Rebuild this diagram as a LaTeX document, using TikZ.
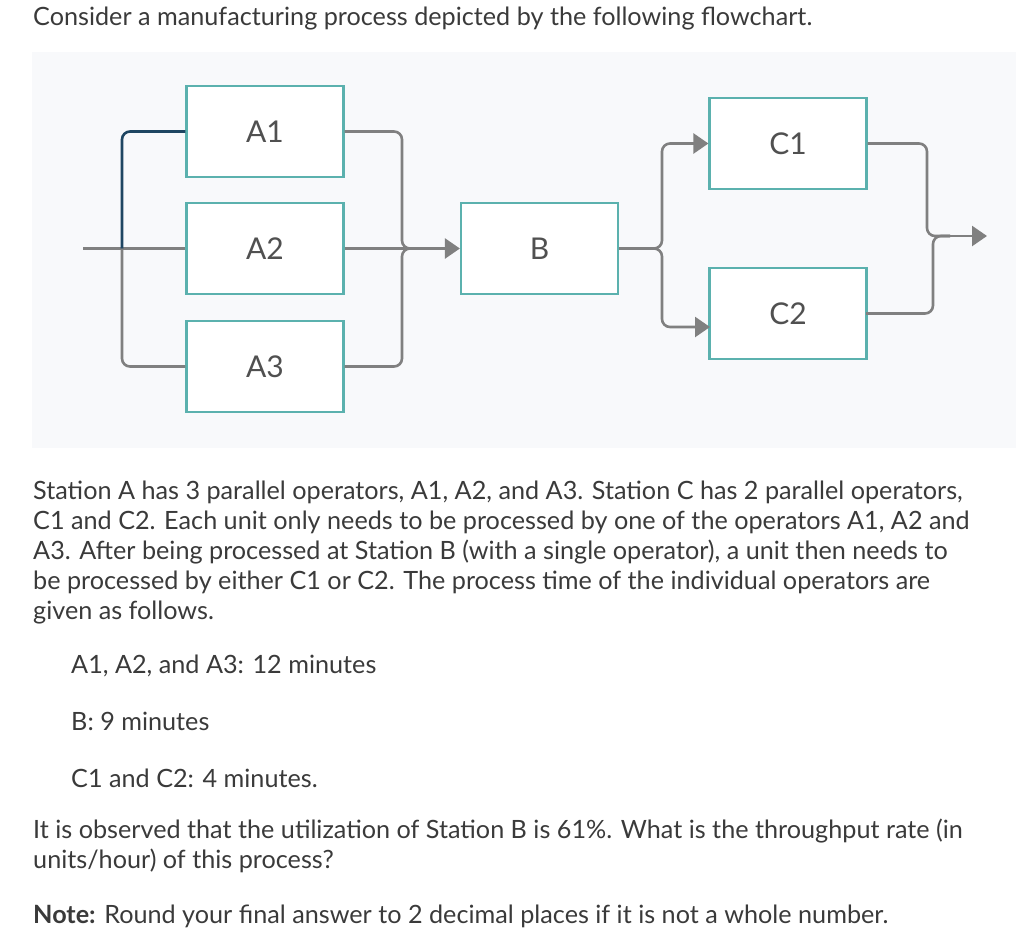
\documentclass[tikz,border=0pt]{standalone}
\usepackage{fontspec}
\setmainfont{Lato}
\usetikzlibrary{arrows.meta}
\definecolor{panelbg}{HTML}{F8F9FB}
\definecolor{teal}{HTML}{5BB1AE}
\definecolor{lineg}{HTML}{808080}
\definecolor{darkb}{HTML}{1F4662}
\definecolor{lbl}{HTML}{505050}
\definecolor{txt}{HTML}{3A3A3A}
\tikzset{
  opbox/.style={draw=teal, line width=2.2pt, fill=white, minimum width=157pt, minimum height=91pt, inner sep=0pt, text=lbl, font=\fontsize{30}{32}\selectfont},
  conn/.style={draw=lineg, line width=2.6pt, rounded corners=8pt},
  darkconn/.style={draw=darkb, line width=2.6pt, rounded corners=8pt},
  tip/.style={-{Triangle[length=15pt,width=20pt]}},
  para/.style={anchor=base west, inner sep=0pt, text=txt, font=\fontsize{25.2}{30}\selectfont}
}
\begin{document}
\begin{tikzpicture}[x=1pt,y=-1pt]
\useasboundingbox (0,0) rectangle (1024,951);
\fill[panelbg] (32,52) rectangle (1016,448);
% nodes
\node[opbox] (A1) at (265,131.5) {A1};
\node[opbox] (A2) at (265,248.5) {A2};
\node[opbox] (A3) at (265,366.5) {A3};
\node[opbox] (B)  at (539.5,248.5) {B};
\node[opbox] (C1) at (788,143.5) {C1};
\node[opbox] (C2) at (788,313.5) {C2};
% coordinates
\coordinate (in) at (83,248.5);
\coordinate (jL) at (122,248.5);
\coordinate (mAB) at (402,248.5);
\coordinate (mABend) at (430,248.5);
\coordinate (jB) at (662,248.5);
\coordinate (c2in) at (710,327);
\coordinate (c2out) at (866,313.5);
\coordinate (jC1) at (927,236);
\coordinate (jC2) at (933,236);
\coordinate (jCend) at (950,236);
\coordinate (out) at (987,236);
% connectors
\draw[conn] (in) -- (A2.west);
\draw[darkconn] (jL) |- (A1.west);
\draw[conn] (jL) |- (A3.west);
\draw[conn] (A1.east) -| (mAB) -- (mABend);
\draw[conn] (A3.east) -| (mAB) -- (mABend);
\draw[conn,tip] (A2.east) -- (B.west);
\draw[conn,tip] (B.east) -- (jB) |- (C1.west);
\draw[conn,tip] (B.east) -- (jB) |- (c2in);
\draw[conn] (C1.east) -| (jC1) -- (jCend);
\draw[conn] (c2out) -| (jC2) -- (jCend);
\draw[conn,tip] (jC2) -- (out);
% text
\node[para] (t0) at (33,25) {Consider a manufacturing process depicted by the following flowchart.};
\node[para] (t1) at (33,499) {Station A has 3 parallel operators, A1, A2, and A3. Station C has 2 parallel operators,};
\node[para] (t2) at (33,529) {C1 and C2. Each unit only needs to be processed by one of the operators A1, A2 and};
\node[para] (t3) at (33,559) {A3. After being processed at Station B (with a single operator), a unit then needs to};
\node[para] (t4) at (33,589) {be processed by either C1 or C2. The process time of the individual operators are};
\node[para] (t5) at (33,619) {given as follows.};
\node[para] (l1) at (71,673) {A1, A2, and A3: 12 minutes};
\node[para] (l2) at (71,730) {B: 9 minutes};
\node[para] (l3) at (71,787) {C1 and C2: 4 minutes.};
\node[para] (q1) at (33,838) {It is observed that the utilization of Station B is 61\%. What is the throughput rate (in};
\node[para] (q2) at (33,868) {units/hour) of this process?};
\node[para] (n1) at (33,923) {\textbf{Note:} Round your final answer to 2 decimal places if it is not a whole number.};
\end{tikzpicture}
\end{document}
